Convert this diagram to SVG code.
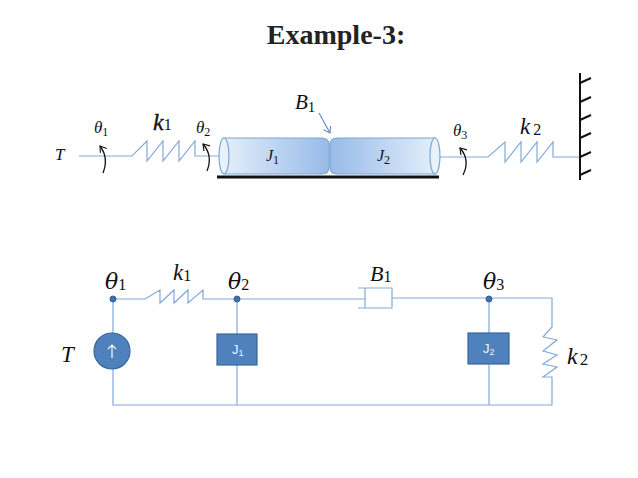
<svg xmlns="http://www.w3.org/2000/svg" width="638" height="478" viewBox="0 0 638 478">
<style>
text{font-family:"Liberation Serif","DejaVu Serif",serif;fill:#111}
.i{font-style:italic}
.w{fill:none;stroke:#84a9d8;stroke-width:1.200}
.c{fill:none;stroke:#111;stroke-width:1.300;marker-end:url(#a)}
.cyl{stroke:#7fa6d2;stroke-width:1.200}
.box{fill:#4f81bd;stroke:#3a679c;stroke-width:1.200}
.n{fill:#3f70ab;stroke:#345f94;stroke-width:1}
.bt{font-family:"Liberation Sans","DejaVu Sans",sans-serif;fill:#eef3fa;font-size:13px}
.s{font-size:12px}
.th{font-family:"DejaVu Serif",serif;font-style:italic;font-size:22px}
.sub{font-family:"Liberation Serif",serif;font-style:normal;font-size:16px}
</style>
<defs>
<linearGradient id="g1" x1="0" x2="1" y1="0" y2="0"><stop offset="0" stop-color="#e3eefb"/><stop offset="1" stop-color="#97bbe8"/></linearGradient>
<linearGradient id="g2" x1="0" x2="1" y1="0" y2="0"><stop offset="0" stop-color="#97bbe8"/><stop offset="1" stop-color="#e3eefb"/></linearGradient>
<marker id="a" markerWidth="9" markerHeight="9" refX="7" refY="4" orient="auto" markerUnits="userSpaceOnUse"><path d="M1 0L7 4L1 8" fill="none" stroke="#111" stroke-width="1.100"/></marker>
<marker id="b" markerWidth="9" markerHeight="9" refX="7" refY="4" orient="auto" markerUnits="userSpaceOnUse"><path d="M1 0L7 4L1 8" fill="none" stroke="#5b8ac4" stroke-width="1.100"/></marker>
</defs>
<rect width="638" height="478" fill="#fff"/>
<text id="title" x="336" y="44" text-anchor="middle" font-size="28" font-weight="bold" style="fill:#222">Example-3:</text>

<g id="connectors">
<path class="w" d="M79 156H132L147 141V161L163 141V161L179 141V161L195 141V156H222"/>
<path class="w" d="M436 157H488L505 142V162L521 142V162L537 142V162L553 142V157H580"/>
<path class="c" d="M103 173C107 163 106 154 100 146"/>
<path class="c" d="M207 171C211 161 210 152 203 144"/>
<path class="c" d="M463 175C468 165 467 156 460 148"/>
<path d="M319 113L330 133" fill="none" stroke="#5b8ac4" stroke-width="1.100" marker-end="url(#b)"/>
<path class="w" d="M113 299H145L160 290V303L174 290V303L188 290V303L203 290V299H365"/>
<path class="w" d="M358 288H392V308H358M365 288V308M392 298H552V327L543 337L557 340L543 351L557 355L543 364L557 367L543 377H552V405H113V299M237 299V405M489 298V405"/>
</g>

<g id="cylinder-j1">
<path class="cyl" fill="url(#g1)" d="M224 138H322Q329 138 329 145V167Q329 174 322 174H224Z"/>
<ellipse class="cyl" cx="224" cy="156" rx="5" ry="18" fill="#e9f1fb"/>
<text class="i" x="266" y="161" font-size="16">J<tspan class="s" font-style="normal" dy="3">1</tspan></text>
</g>
<g id="cylinder-j2">
<path class="cyl" fill="url(#g2)" d="M337 138H435V174H337Q330 174 330 167V145Q330 138 337 138Z"/>
<ellipse class="cyl" cx="435" cy="156" rx="5" ry="18" fill="#e9f1fb"/>
<text class="i" x="377" y="161" font-size="16">J<tspan class="s" font-style="normal" dy="3">2</tspan></text>
</g>
<rect id="floor" x="217" y="175.500" width="222" height="3" fill="#111"/>
<g id="wall" stroke="#111" stroke-width="2" fill="none">
<path d="M580 73V180M580 83L591 78M580 102L591 97M580 120L591 115M580 138L591 133M580 157L591 152M580 175L591 170"/>
</g>

<g id="labels-top">
<text class="i" x="55" y="160" font-size="17">T</text>
<text class="i" x="94" y="133" font-size="17">θ<tspan class="s" font-style="normal" dy="3">1</tspan></text>
<text class="i" x="153" y="130" font-size="24" stroke="#111" stroke-width="0.300">k<tspan font-size="16" font-style="normal" stroke="none" dy="0">1</tspan></text>
<text class="i" x="196" y="133" font-size="17">θ<tspan class="s" font-style="normal" dy="3">2</tspan></text>
<text class="i" x="295" y="109" font-size="21">B<tspan font-size="15" font-style="normal" dy="3">1</tspan></text>
<text class="i" x="453" y="136" font-size="17">θ<tspan class="s" font-style="normal" dy="3">3</tspan></text>
<text class="i" x="520" y="134" font-size="23">k<tspan font-size="16" font-style="normal" dx="3" dy="1">2</tspan></text>
</g>

<g id="node-theta1"><circle class="n" cx="113" cy="299" r="3"/>
<text class="th" x="105" y="289">θ<tspan class="sub" dy="1">1</tspan></text></g>
<g id="node-theta2"><circle class="n" cx="237" cy="299" r="3"/>
<text class="th" x="228" y="289">θ<tspan class="sub" dy="1">2</tspan></text></g>
<g id="node-theta3"><circle class="n" cx="489" cy="299" r="3"/>
<text class="th" x="483" y="289">θ<tspan class="sub" dy="1">3</tspan></text></g>
<text class="i" x="173" y="280" font-size="23">k<tspan font-size="16" font-style="normal" dy="1">1</tspan></text>
<text class="i" x="370" y="281" font-size="22">B<tspan font-size="16" font-style="normal" dy="1">1</tspan></text>
<text class="i" x="567" y="364" font-size="24">k<tspan font-size="17" font-style="normal" dx="2" dy="1">2</tspan></text>
<g id="source-t"><circle class="box" cx="112" cy="351" r="18"/>
<path d="M112 358V345M108 349L112 345L116 349" fill="none" stroke="#fff" stroke-width="1.200"/>
<text class="i" x="61" y="362" font-size="23">T</text></g>
<g id="box-j1"><rect class="box" x="217" y="334" width="40" height="31"/>
<text class="bt" x="232" y="354">J<tspan font-size="9" dy="2">1</tspan></text></g>
<g id="box-j2"><rect class="box" x="468" y="333" width="41" height="31"/>
<text class="bt" x="483" y="353">J<tspan font-size="9" dy="2">2</tspan></text></g>
</svg>
